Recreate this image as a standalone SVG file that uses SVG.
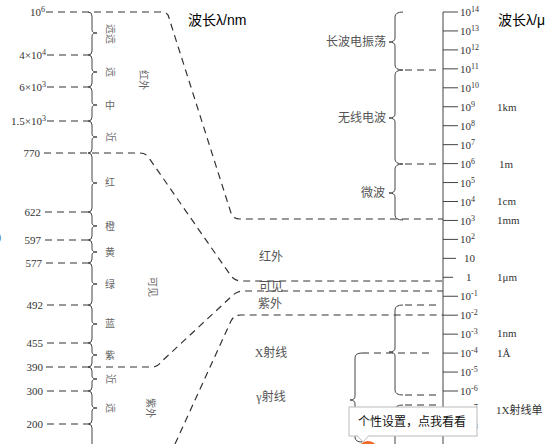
<svg xmlns="http://www.w3.org/2000/svg" width="548" height="444" viewBox="0 0 548 444">
<style>
.ln{fill:none;stroke:#444;stroke-width:1}
.ds{fill:none;stroke:#333;stroke-width:1.2;stroke-dasharray:7 5}
.num{font-family:"Liberation Serif",serif;font-size:11px;fill:#333}
.cn{font-family:"Liberation Serif","Noto Sans CJK SC",serif;font-size:12px;fill:#555}
.cs{font-family:"Liberation Serif","Noto Sans CJK SC",serif;font-size:10px;fill:#666}
.hd{font-family:"Liberation Sans","Noto Sans CJK SC",sans-serif;font-size:14px;fill:#000}
.sup{font-size:8px}
</style>
<rect width="548" height="444" fill="#fff"/>

<g id="connectors">
  <path class="ds" d="M46,12 H162 Q168,12 169,18 L231,213 Q233,219 240,219 H443"/>
  <path class="ds" d="M44,153 H140 Q146,153 149,158 L231,276 Q235,281 242,281 H443"/>
  <path class="ds" d="M46,367 H152 Q158,367 161,362 L232,296 Q237,291 244,291 H443"/>
  <path class="ds" d="M175,444 L231,321 Q234,315 241,315 H443"/>
  <g class="ds">
    <path d="M47,55 H88 M47,87 H88 M47,121 H88 M45,212 H88 M45,240 H88 M46,263 H88 M47,305 H88 M47,343 H88 M47,391 H88 M47,424 H88"/>
    <path d="M405,70 H437 M405,164 H437 M405,305 H437 M405,395 H437 M405,405 H437 M362,353 H432"/>
  </g>
</g>

<g id="left-scale">
  <g class="num">
    <text x="45" y="16" text-anchor="end">10<tspan class="sup" dy="-4">6</tspan></text>
    <text x="46" y="59" text-anchor="end">4×10<tspan class="sup" dy="-4">4</tspan></text>
    <text x="46" y="91" text-anchor="end">6×10<tspan class="sup" dy="-4">3</tspan></text>
    <text x="46" y="125" text-anchor="end">1.5×10<tspan class="sup" dy="-4">3</tspan></text>
    <text x="40" y="157" text-anchor="end">770</text>
    <text x="41" y="216" text-anchor="end">622</text>
    <text x="41" y="244" text-anchor="end">597</text>
    <text x="42" y="267" text-anchor="end">577</text>
    <text x="43" y="309" text-anchor="end">492</text>
    <text x="43" y="347" text-anchor="end">455</text>
    <text x="43" y="371" text-anchor="end">390</text>
    <text x="43" y="395" text-anchor="end">300</text>
    <text x="43" y="428" text-anchor="end">200</text>
    <text x="-3" y="241" font-size="12">)</text>
  </g>
  <path class="ln" d="M88,12 Q92,12 92,16 V30 Q92,33 97,33 Q92,33 92,36 V51 Q92,55 88,55"/>
  <path class="ln" d="M88,55 Q92,55 92,59 V69 Q92,72 97,72 Q92,72 92,75 V83 Q92,87 88,87"/>
  <path class="ln" d="M88,87 Q92,87 92,91 V102 Q92,105 97,105 Q92,105 92,108 V117 Q92,121 88,121"/>
  <path class="ln" d="M88,121 Q92,121 92,125 V134 Q92,137 97,137 Q92,137 92,140 V149 Q92,153 88,153"/>
  <path class="ln" d="M88,153 Q92,153 92,157 V180 Q92,183 97,183 Q92,183 92,186 V208 Q92,212 88,212"/>
  <path class="ln" d="M88,212 Q92,212 92,216 V223 Q92,226 97,226 Q92,226 92,229 V236 Q92,240 88,240"/>
  <path class="ln" d="M88,240 Q92,240 92,244 V249 Q92,252 97,252 Q92,252 92,255 V259 Q92,263 88,263"/>
  <path class="ln" d="M88,263 Q92,263 92,267 V281 Q92,284 97,284 Q92,284 92,287 V301 Q92,305 88,305"/>
  <path class="ln" d="M88,305 Q92,305 92,309 V321 Q92,324 97,324 Q92,324 92,327 V339 Q92,343 88,343"/>
  <path class="ln" d="M88,343 Q92,343 92,347 V352 Q92,355 97,355 Q92,355 92,358 V363 Q92,367 88,367"/>
  <path class="ln" d="M88,367 Q92,367 92,371 V376 Q92,379 97,379 Q92,379 92,382 V387 Q92,391 88,391"/>
  <path class="ln" d="M88,391 Q92,391 92,395 V405 Q92,408 97,408 Q92,408 92,411 V420 Q92,424 88,424"/>
  <path class="ln" d="M88,424 Q92,424 92,428 V452"/>
  <g class="cs" text-anchor="middle">
    <text transform="translate(110,34) rotate(90)" dominant-baseline="central">远远</text>
    <text transform="translate(110,72) rotate(90)" dominant-baseline="central">远</text>
    <text x="110" y="109">中</text>
    <text transform="translate(110,137) rotate(90)" dominant-baseline="central">近</text>
    <text transform="translate(143,80) rotate(90)" dominant-baseline="central">红外</text>
    <text x="110" y="186">红</text>
    <text x="110" y="230">橙</text>
    <text x="110" y="256">黄</text>
    <text x="110" y="288">绿</text>
    <text transform="translate(152,287) rotate(90)" dominant-baseline="central">可见</text>
    <text x="110" y="327">蓝</text>
    <text x="110" y="359">紫</text>
    <text transform="translate(110,379) rotate(90)" dominant-baseline="central">近</text>
    <text transform="translate(110,408) rotate(90)" dominant-baseline="central">远</text>
    <text transform="translate(150,408) rotate(90)" dominant-baseline="central">紫外</text>
  </g>
</g>

<g id="headers">
  <text class="hd" x="188" y="25">波长λ/nm</text>
  <text class="hd" x="498" y="25">波长λ/μ</text>
</g>

<g id="bands" class="cn" text-anchor="middle">
  <text x="271" y="261">红外</text>
  <text x="271" y="291">可见</text>
  <text x="270" y="308">紫外</text>
  <text x="271" y="357">X射线</text>
  <text x="271" y="401">γ射线</text>
</g>

<g id="right-axis">
  <path class="ln" d="M443,12 V444"/>
  <path class="ln" d="M443,12 H458 M443,30.95 H458 M443,49.9 H458 M443,68.85 H458 M443,87.8 H458 M443,106.75 H458 M443,125.7 H458 M443,144.65 H458 M443,163.6 H458 M443,182.55 H458 M443,201.5 H458 M443,220.45 H458 M443,239.4 H458 M443,258.35 H456 M443,277.3 H453 M443,296.25 H458 M443,315.2 H458 M443,334.15 H458 M443,353.1 H458 M443,372.05 H458 M443,391 H458 M443,409.95 H458 M443,428.9 H458"/>
  <g class="num">
    <text x="460" y="16">10<tspan class="sup" dy="-4">14</tspan></text>
    <text x="460" y="35">10<tspan class="sup" dy="-4">13</tspan></text>
    <text x="460" y="53.9">10<tspan class="sup" dy="-4">12</tspan></text>
    <text x="460" y="72.9">10<tspan class="sup" dy="-4">11</tspan></text>
    <text x="460" y="91.8">10<tspan class="sup" dy="-4">10</tspan></text>
    <text x="460" y="110.8">10<tspan class="sup" dy="-4">9</tspan></text>
    <text x="460" y="129.7">10<tspan class="sup" dy="-4">8</tspan></text>
    <text x="460" y="148.7">10<tspan class="sup" dy="-4">7</tspan></text>
    <text x="460" y="167.6">10<tspan class="sup" dy="-4">6</tspan></text>
    <text x="460" y="186.6">10<tspan class="sup" dy="-4">5</tspan></text>
    <text x="460" y="205.5">10<tspan class="sup" dy="-4">4</tspan></text>
    <text x="460" y="224.5">10<tspan class="sup" dy="-4">3</tspan></text>
    <text x="460" y="243.4">10<tspan class="sup" dy="-4">2</tspan></text>
    <text x="464" y="262.4">10</text>
    <text x="466" y="281.3">1</text>
    <text x="460" y="300.3">10<tspan class="sup" dy="-4">-1</tspan></text>
    <text x="460" y="319.2">10<tspan class="sup" dy="-4">-2</tspan></text>
    <text x="460" y="338.2">10<tspan class="sup" dy="-4">-3</tspan></text>
    <text x="460" y="357.1">10<tspan class="sup" dy="-4">-4</tspan></text>
    <text x="460" y="376.1">10<tspan class="sup" dy="-4">-5</tspan></text>
    <text x="460" y="395">10<tspan class="sup" dy="-4">-6</tspan></text>
    <text x="460" y="414">10<tspan class="sup" dy="-4">-7</tspan></text>
    <text x="460" y="432.9">10<tspan class="sup" dy="-4">-8</tspan></text>
  </g>
  <g class="num" font-size="12">
    <text x="497" y="111">1km</text>
    <text x="499" y="168">1m</text>
    <text x="497" y="205">1cm</text>
    <text x="497" y="224">1mm</text>
    <text x="497" y="281">1μm</text>
    <text x="497" y="337">1nm</text>
    <text x="497" y="357">1Å</text>
    <text x="496" y="414" font-family="Liberation Serif,'Noto Sans CJK SC',serif">1X射线单</text>
  </g>
</g>

<g id="right-braces">
  <path class="ln" d="M403,12 Q395,12 395,17 V38 Q395,42 389,42 Q395,42 395,46 V65 Q395,70 403,70"/>
  <path class="ln" d="M403,70 Q395,70 395,75 V114 Q395,118 389,118 Q395,118 395,122 V159 Q395,164 403,164"/>
  <path class="ln" d="M403,164 Q395,164 395,169 V189 Q395,193 389,193 Q395,193 395,197 V215 Q395,220 403,220"/>
  <path class="ln" d="M403,305 Q395,305 395,310 V348 Q395,352 389,352 Q395,352 395,356 V390 Q395,395 403,395"/>
  <path class="ln" d="M362,353 Q355,353 355,358 V396 Q355,400 350,400 Q355,400 355,404 V437 Q355,442 362,442"/>
  <path class="ln" d="M403,405 Q395,405 395,410 V452"/>
  <g class="cn" text-anchor="end">
    <text x="386" y="46">长波电振荡</text>
    <text x="386" y="122">无线电波</text>
    <text x="385" y="197">微波</text>
  </g>
</g>

<g id="tooltip">
  <ellipse cx="368" cy="447" rx="8" ry="6" fill="#f06a2a"/>
  <rect x="349" y="407" width="128" height="29" fill="#fff" stroke="#bbb" stroke-width="1"/>
  <path d="M357,435.5 L363,442 L369,435.5" fill="#fff" stroke="#bbb" stroke-width="1"/>
  <path d="M357.5,435 H368.5" stroke="#fff" stroke-width="1.5"/>
  <text x="358" y="426" font-family="'Noto Sans CJK SC',sans-serif" font-size="12" fill="#111">个性设置，点我看看</text>
</g>
</svg>
